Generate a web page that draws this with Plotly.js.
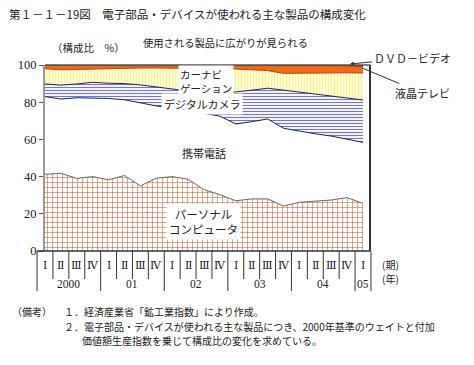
<!DOCTYPE html>
<html><head><meta charset="utf-8">
<script src="https://cdn.plot.ly/plotly-3.0.1.min.js"></script>
<style>html,body{margin:0;padding:0;background:#fff;} #chart{width:474px;height:365px;}</style>
</head><body><div id="chart"></div>
<script>
// ---- data (構成比 %) ----
const quarterLabels = ['Ⅰ','Ⅱ','Ⅲ','Ⅳ','Ⅰ','Ⅱ','Ⅲ','Ⅳ','Ⅰ','Ⅱ','Ⅲ','Ⅳ','Ⅰ','Ⅱ','Ⅲ','Ⅳ','Ⅰ','Ⅱ','Ⅲ','Ⅳ','Ⅰ'];
const yearLabels = ['2000','01','02','03','04','05'];
const yearFirstQuarter = [0,4,8,12,16,20];
const pc      = [41.2,41.8,39.0,40.0,38.3,40.6,35.0,39.2,40.0,38.6,33.0,30.3,27.0,28.0,28.0,24.2,26.2,26.7,27.4,28.7,25.6];
const mobile  = [41.8,39.9,43.4,42.4,43.7,40.7,44.6,38.8,36.7,36.9,41.0,42.2,41.3,41.5,43.0,41.8,38.1,36.3,34.4,31.3,32.8];
const camera  = [6.8,7.5,7.4,8.3,8.2,8.7,9.7,10.2,10.3,10.5,11.5,12.8,17.2,17.0,16.5,20.5,21.2,21.5,21.7,22.3,22.8];
const carnav  = [8.2,8.2,7.8,7.2,7.9,8.3,9.1,10.2,11.4,12.4,12.8,12.7,12.3,11.0,9.5,9.0,10.1,11.3,12.5,13.5,14.5];
const dvd     = [1.8,2.4,2.2,1.9,1.7,1.5,1.4,1.4,1.4,1.4,1.5,1.7,1.8,2.1,2.5,4.0,3.9,3.7,3.4,3.5,3.2];
const lcdtv   = [0.2,0.2,0.2,0.2,0.2,0.2,0.2,0.2,0.2,0.2,0.2,0.3,0.3,0.3,0.4,0.4,0.4,0.5,0.6,0.7,1.1];

const idx = pc.map((_, i) => i);
const X_MAX = 20.44;
// pixel -> paper helpers for layout-only decorations (plot area: x 45..370, y 65..251)
const PL = 45, PR = 370, PT = 65, PB = 251;
const fx = p => (p - PL) / (PR - PL);
const fy = p => (PB - p) / (PB - PT);
const dx = v => v / X_MAX;   // data x -> paper x

const JP = '"Noto Sans CJK JP", "Noto Sans", sans-serif';
const SERIF = '"Liberation Serif", "DejaVu Serif", "Noto Sans CJK JP", serif';

function area(y, line, fill, pattern) {
  const t = {x: idx, y: y, type: 'scatter', mode: 'lines', stackgroup: 'one',
    line: {color: line, width: 1}, fillcolor: fill, hoverinfo: 'skip', showlegend: false};
  if (pattern) t.fillpattern = pattern;
  return t;
}
const traces = [
  area(pc, '#666666', '#ffffff', {shape: '+', fgcolor: '#c8653c', bgcolor: '#ffffff', size: 5, solidity: 0.22}),
  area(mobile, '#20205a', '#ffffff'),
  area(camera, '#20205a', '#ffffff', {shape: '-', fgcolor: '#7272e2', bgcolor: '#ffffff', size: 3, solidity: 0.38}),
  area(carnav, '#b04818', '#ffffd6', {shape: '|', fgcolor: '#f5ef9e', bgcolor: '#ffffd6', size: 3, solidity: 0.4}),
  area(dvd, '#e05a10', '#f26a12'),
  area(lcdtv, '#6a2410', '#6a2410')
];

// ---- table below the x axis ----
const shapes = [];
const LINE = {color: '#333333', width: 1};
for (let i = 0; i <= quarterLabels.length; i++) {
  const isYear = yearFirstQuarter.includes(i) || i === quarterLabels.length;
  shapes.push({type: 'line', xref: 'paper', yref: 'paper', x0: dx(i - 0.5), x1: dx(i - 0.5),
    y0: 0, y1: isYear ? fy(291) : fy(279), line: LINE});
}
shapes.push({type: 'line', xref: 'paper', yref: 'paper', x0: dx(-0.5), x1: 1, y0: 0, y1: 0, line: {color: '#333', width: 1.5}});
shapes.push({type: 'line', xref: 'paper', yref: 'paper', x0: 0, x1: 1, y0: 1, y1: 1, line: {color: '#555', width: 1.5}});
shapes.push({type: 'line', xref: 'paper', yref: 'paper', x0: 1, x1: 1, y0: 0, y1: 1, line: {color: '#333', width: 2}});

const ann = [];
quarterLabels.forEach((q, i) => ann.push({x: i, y: fy(265), xref: 'x', yref: 'paper', text: q, showarrow: false,
  xanchor: 'center', yanchor: 'middle', font: {family: SERIF, size: 11, color: '#222'}}));
yearLabels.forEach((yl, k) => {
  const s = yearFirstQuarter[k];
  const e = (k + 1 < yearFirstQuarter.length) ? yearFirstQuarter[k + 1] - 1 : quarterLabels.length - 1;
  ann.push({x: (s + e) / 2, y: fy(284), xref: 'x', yref: 'paper', text: yl, showarrow: false,
    xanchor: 'center', yanchor: 'middle', font: {family: SERIF, size: 11.5, color: '#222'}});
});
function txt(text, x, y, size, opts) {
  return Object.assign({xref: 'paper', yref: 'paper', x: fx(x), y: fy(y), text: text, showarrow: false,
    xanchor: 'center', yanchor: 'middle', font: {family: JP, size: size, color: '#222'}}, opts || {});
}
ann.push(txt('第１－１－19図　電子部品・デバイスが使われる主な製品の構成変化', 7, 14, 11.5, {xanchor: 'left'}));
ann.push(txt('使用される製品に広がりが見られる', 225, 42, 10.3));
ann.push(txt('（構成比　%）', 50, 47, 10.5, {xanchor: 'left'}));
ann.push(txt('(期)', 390, 264, 10, {borderpad: 0}));
ann.push(txt('(年)', 390, 278.5, 10, {borderpad: 0}));
ann.push(txt('カーナビ<br>ゲーション', 206, 81, 10.5, {align: 'left', bgcolor: '#ffffff', borderpad: 1}));
ann.push(txt('デジタルカメラ', 202, 104, 11, {bgcolor: '#ffffff', borderpad: 2}));
ann.push(txt('携帯電話', 204, 153, 11));
ann.push(txt('パーソナル<br>コンピュータ', 203, 221, 11.5, {bgcolor: '#ffffff', borderpad: 2}));
ann.push({xref: 'paper', yref: 'paper', x: fx(350), y: fy(64), text: 'ＤＶＤ－ビデオ', showarrow: true,
  ax: 62, ay: -6, arrowhead: 2, arrowsize: 0.8, arrowwidth: 1, arrowcolor: '#333',
  font: {family: JP, size: 11, color: '#222'}});
ann.push({xref: 'paper', yref: 'paper', x: fx(362), y: fy(68), text: '液晶テレビ', showarrow: true,
  ax: 60, ay: 25, arrowhead: 0, arrowwidth: 1, arrowcolor: '#333',
  font: {family: JP, size: 11, color: '#222'}});
ann.push(txt('（備考）', 10, 311, 10, {xanchor: 'left'}));
ann.push(txt('１．経済産業省「鉱工業指数」により作成。', 62, 311, 10, {xanchor: 'left'}));
ann.push(txt('２．電子部品・デバイスが使われる主な製品につき、2000年基準のウェイトと付加', 62, 326, 10, {xanchor: 'left'}));
ann.push(txt('価値額生産指数を乗じて構成比の変化を求めている。', 80, 340, 10, {xanchor: 'left'}));

const layout = {
  width: 474, height: 365,
  margin: {l: PL, r: 474 - PR, t: PT, b: 365 - PB, pad: 0},
  paper_bgcolor: '#ffffff', plot_bgcolor: '#ffffff',
  showlegend: false,
  xaxis: {range: [0, X_MAX], showticklabels: false, ticks: '', showgrid: false, zeroline: false, showline: false, fixedrange: true},
  yaxis: {range: [0, 100], tickvals: [0, 20, 40, 60, 80, 100], ticks: 'outside', ticklen: 4, tickcolor: '#555',
    showline: true, linecolor: '#999', linewidth: 2, showgrid: false, zeroline: false,
    tickfont: {family: SERIF, size: 12.5, color: '#222'}, fixedrange: true},
  shapes: shapes,
  annotations: ann
};
Plotly.newPlot('chart', traces, layout, {staticPlot: true, displayModeBar: false});
</script>
</body></html>
